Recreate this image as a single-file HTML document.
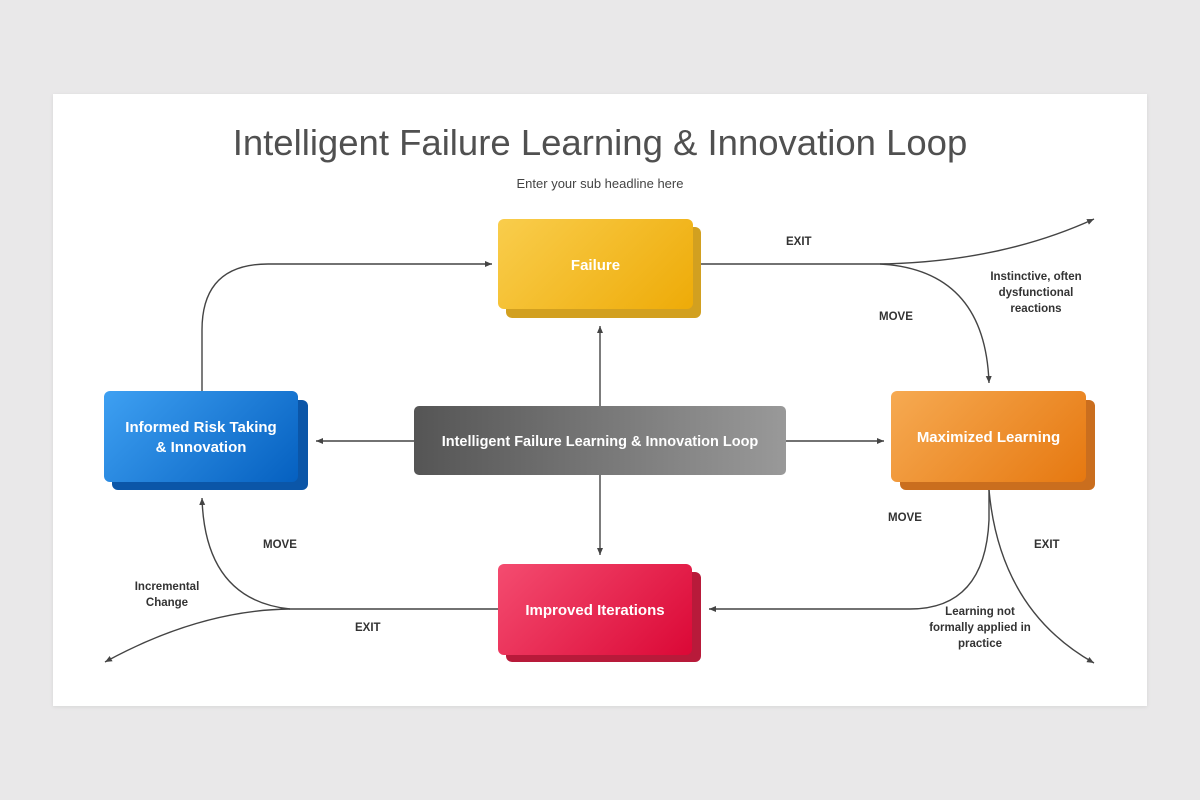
<!DOCTYPE html>
<html><head><style>
body{margin:0;width:1200px;height:800px;background:#e9e8e9;font-family:"Liberation Sans",sans-serif;position:relative;overflow:hidden}
.card{position:absolute;left:53px;top:94px;width:1094px;height:612px;background:#fff;box-shadow:0 1px 4px rgba(0,0,0,.08)}
.t{position:absolute;left:0;width:1200px;text-align:center;color:#505050}
.b{position:absolute;border-radius:6px;display:flex;align-items:center;justify-content:center;text-align:center;color:#fff;font-weight:bold;font-size:15px;line-height:20px;padding-top:3px;box-sizing:border-box}
.l{position:absolute;font-size:11.5px;color:#333;text-align:center;line-height:16px;font-weight:bold}
</style></head><body>
<div class="card"></div>
<div class="t" style="top:122px;font-size:36.5px;">Intelligent Failure Learning &amp; Innovation Loop</div>
<div class="t" style="top:176px;font-size:13px;color:#444">Enter your sub headline here</div>
<svg width="1200" height="800" style="position:absolute;left:0;top:0">
<defs><marker id="a" markerWidth="8" markerHeight="8" refX="7" refY="4" orient="auto" markerUnits="userSpaceOnUse"><path d="M0,1 L7,4 L0,7 z" fill="#444"/></marker></defs>
<g fill="none" stroke="#444" stroke-width="1.4">
<path d="M701,264 L880,264 Q985,270 989,383" marker-end="url(#a)"/>
<path d="M880,264 Q1000,262 1094,219" marker-end="url(#a)"/>
<path d="M202,391 L202,330 Q202,264 268,264 L492,264" marker-end="url(#a)"/>
<path d="M600,406 L600,326" marker-end="url(#a)"/>
<path d="M600,475 L600,555" marker-end="url(#a)"/>
<path d="M414,441 L316,441" marker-end="url(#a)"/>
<path d="M786,441 L884,441" marker-end="url(#a)"/>
<path d="M989,490 L989,520 Q985,609 910,609 L709,609" marker-end="url(#a)"/>
<path d="M989,490 Q1000,610 1094,663" marker-end="url(#a)"/>
<path d="M498,609 L290,609 Q205,600 202,498" marker-end="url(#a)"/>
<path d="M290,609 Q200,610 105,662" marker-end="url(#a)"/>
</g></svg>
<div class="b" style="left:506px;top:227px;width:195px;height:91px;background:#d2a020"></div>
<div class="b" style="left:498px;top:219px;width:195px;height:90px;background:linear-gradient(135deg,#f9cd4c,#eeab08)">Failure</div>
<div class="b" style="left:112px;top:400px;width:196px;height:90px;background:#0b56a8"></div>
<div class="b" style="left:104px;top:391px;width:194px;height:91px;background:linear-gradient(135deg,#3ea0f2,#0560c0)">Informed Risk Taking<br>&amp; Innovation</div>
<div class="b" style="left:414px;top:406px;width:372px;height:69px;border-radius:5px;background:linear-gradient(90deg,#555,#999);font-size:14.5px">Intelligent Failure Learning &amp; Innovation Loop</div>
<div class="b" style="left:900px;top:400px;width:195px;height:90px;background:#ca6e1e"></div>
<div class="b" style="left:891px;top:391px;width:195px;height:91px;background:linear-gradient(135deg,#f6aa52,#e67810)">Maximized Learning</div>
<div class="b" style="left:506px;top:572px;width:195px;height:90px;background:#b81a3a"></div>
<div class="b" style="left:498px;top:564px;width:194px;height:91px;background:linear-gradient(135deg,#f44c70,#db0836)">Improved Iterations</div>
<div class="l" style="left:786px;top:234px">EXIT</div>
<div class="l" style="left:879px;top:309px">MOVE</div>
<div class="l" style="left:981px;top:269px;width:110px">Instinctive, often<br>dysfunctional<br>reactions</div>
<div class="l" style="left:888px;top:510px">MOVE</div>
<div class="l" style="left:1034px;top:537px">EXIT</div>
<div class="l" style="left:920px;top:604px;width:120px">Learning not<br>formally applied in<br>practice</div>
<div class="l" style="left:263px;top:537px">MOVE</div>
<div class="l" style="left:355px;top:620px">EXIT</div>
<div class="l" style="left:117px;top:579px;width:100px">Incremental<br>Change</div>
</body></html>
